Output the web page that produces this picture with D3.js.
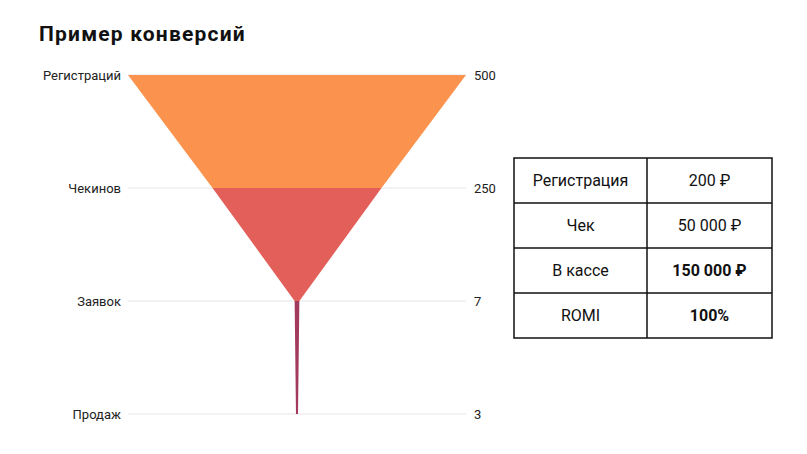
<!DOCTYPE html>
<html><head><meta charset="utf-8">
<script src="https://cdn.jsdelivr.net/npm/d3@7"></script>
<style>body{margin:0;background:#fff}</style>
</head><body>
<svg id="c" width="807" height="454"></svg>
<script>
var stages = ["Регистраций", "Чекинов", "Заявок", "Продаж"];
var values = [500, 250, 7, 3];
var colors = ["#fb934f", "#e35f5a", "#a2395f"];
var tableKeys = ["Регистрация", "Чек", "В кассе", "ROMI"];
var tableVals = ["200 ₽", "50 000 ₽", "150 000 ₽", "100%"];
var tableBold = [false, false, true, true];

var svg = d3.select("#c"), font = "Roboto, 'Noto Sans', sans-serif";
var cx = 297;
var y = d3.scalePoint().domain(stages).range([75, 414]);
var w = d3.scaleLinear().domain([0, 500]).range([0, 169]);

svg.append("text").attr("x", 39).attr("y", 41).text("Пример конверсий")
  .attr("font-family", font).attr("font-weight", 700).attr("font-size", 21)
  .attr("letter-spacing", 1.2).attr("fill", "#111");

// grid lines + labels
stages.forEach(function(s, i) {
  svg.append("line").attr("x1", 128).attr("x2", 466)
    .attr("y1", y(s)).attr("y2", y(s)).attr("stroke", "#e6e6e6");
  svg.append("text").attr("x", 121).attr("y", y(s)).attr("dy", "0.35em")
    .attr("text-anchor", "end").attr("font-family", font).attr("font-size", 13)
    .attr("fill", "#222").text(s);
  svg.append("text").attr("x", 474).attr("y", y(s)).attr("dy", "0.35em")
    .attr("font-family", font).attr("font-size", 13).attr("fill", "#222").text(values[i]);
});

// funnel segments
for (var i = 0; i < stages.length - 1; i++) {
  var y0 = y(stages[i]), y1 = y(stages[i + 1]);
  var a = w(values[i]), b = w(values[i + 1]);
  svg.append("path").attr("fill", colors[i])
    .attr("d", "M" + (cx - a) + "," + y0 + "L" + (cx + a) + "," + y0 +
      "L" + (cx + b) + "," + y1 + "L" + (cx - b) + "," + y1 + "Z");
}

// table
var tx = 514, tw = 258, split = 647, ty = 158, rh = 45;
tableKeys.forEach(function(k, i) {
  var yy = ty + i * rh;
  svg.append("text").attr("x", (tx + split) / 2).attr("y", yy + rh / 2).attr("dy", "0.35em")
    .attr("text-anchor", "middle").attr("font-family", font).attr("font-size", 16)
    .attr("fill", "#111").text(k);
  svg.append("text").attr("x", (split + tx + tw) / 2).attr("y", yy + rh / 2).attr("dy", "0.35em")
    .attr("text-anchor", "middle").attr("font-family", font).attr("font-size", 16)
    .attr("font-weight", tableBold[i] ? 700 : 400).attr("fill", "#111").text(tableVals[i]);
  if (i > 0) svg.append("line").attr("x1", tx).attr("x2", tx + tw).attr("y1", yy).attr("y2", yy)
    .attr("stroke", "#111").attr("stroke-width", 1.5);
});
svg.append("rect").attr("x", tx).attr("y", ty).attr("width", tw).attr("height", rh * 4)
  .attr("fill", "none").attr("stroke", "#111").attr("stroke-width", 1.5);
svg.append("line").attr("x1", split).attr("x2", split).attr("y1", ty).attr("y2", ty + rh * 4)
  .attr("stroke", "#111").attr("stroke-width", 1.5);
</script>
</body></html>
